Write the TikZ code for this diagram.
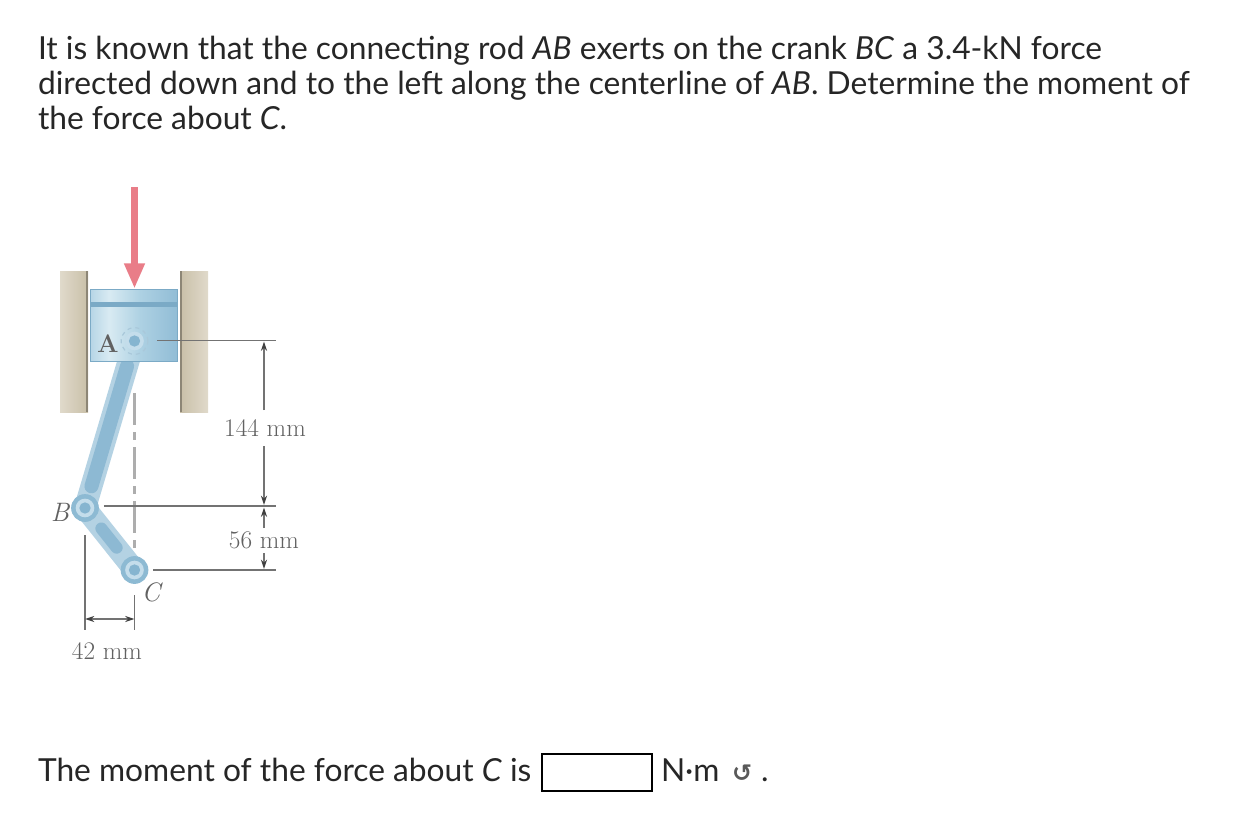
\documentclass[tikz,border=0pt]{standalone}
\usepackage{fontspec}
\setsansfont{Lato}
\newfontfamily\symfont{DejaVu Sans}
\usetikzlibrary{arrows.meta,calc}
\definecolor{rodblue}{HTML}{B4D2E3}
\definecolor{slotblue}{HTML}{8DB9D3}
\definecolor{wallL}{HTML}{E0DACB}
\definecolor{wallR}{HTML}{C9BFA8}
\definecolor{pistonEdge}{HTML}{7BAAC6}
\definecolor{forceRed}{HTML}{E97D88}
\definecolor{pinOut}{HTML}{8DBAD3}
\definecolor{pinRing}{HTML}{C4DDEB}
\definecolor{pinIn}{HTML}{86B5D0}
\pgfdeclarehorizontalshading{pistonshade}{65bp}{
  rgb(0bp)=(0.62,0.78,0.87);
  rgb(18bp)=(0.85,0.92,0.95);
  rgb(36bp)=(0.68,0.82,0.89);
  rgb(65bp)=(0.53,0.71,0.82)}
\tikzset{
  x=0.75pt,y=-0.75pt,
  bodytext/.style={anchor=base west,inner sep=0pt,outer sep=0pt,text=black!85,font=\sffamily\fontsize{23.8}{28}\selectfont},
  dimtext/.style={inner sep=0pt,text=black!62,font=\rmfamily\fontsize{19}{22}\selectfont},
  dimline/.style={draw=black!55,line width=1.1pt},
  dimarrow/.style={dimline,-{Stealth[length=7pt,width=4.5pt,black!75]}},
  centre/.style={draw=black!32,line width=2pt,dash pattern=on 24pt off 5.25pt on 6pt off 5.25pt},
  wall/.style={inner sep=0pt,minimum width=21pt,minimum height=105.75pt},
  pinbig/.style={circle,inner sep=0pt,minimum size=20pt,draw=pinOut,line width=.8pt,fill=pinOut},
  pinmid/.style={circle,inner sep=0pt,minimum size=14pt,fill=pinRing},
  pincore/.style={circle,inner sep=0pt,minimum size=8.5pt,fill=pinIn},
  rodbody/.style={draw=rodblue,line cap=round,line width=16.5pt},
  rodslot/.style={draw=slotblue,line cap=round,line width=10.5pt},
}
\begin{document}
\begin{tikzpicture}
\useasboundingbox (0,0) rectangle (1240,836);
\fill[white] (0,0) rectangle (1240,836);
% text
\node[bodytext] (l1) at (38,59.7) {It is known that the connecting rod \textit{AB} exerts on the crank \textit{BC} a 3.4-kN force};
\node[bodytext] (l2) at (38,94.7) {directed down and to the left along the centerline of \textit{AB}. Determine the moment of};
\node[bodytext] (l3) at (38,129.7) {the force about \textit{C}.};
\node[bodytext] (l4) at (38,781) {The moment of the force about \textit{C} is};
\node[draw=black,line width=1.5pt,inner sep=0pt,minimum width=82pt,minimum height=27.5pt] (box) at (597,772.5) {};
\node[bodytext] (unit) at (661,781) {N·m};
\node[bodytext,text=black!65,font=\symfont\bfseries\fontsize{18}{22}\selectfont] (ccw) at (732,781) {↺};
\node[bodytext] (dot) at (761,781) {.};
% walls
\node[wall,left color=wallL,right color=wallR] (wl) at (74,341.5) {};
\fill[black!30!wallR] (wl.north east) rectangle ([xshift=-1.5pt]wl.south east);
\node[wall,left color=wallR,right color=wallL] (wr) at (194,341.5) {};
\fill[black!30!wallR] (wr.north west) rectangle ([xshift=1.5pt]wr.south west);
% rods and pin centres
\coordinate (A) at (134.5,341);
\coordinate (B) at (85,508);
\coordinate (C) at (134.5,570);
\draw[rodbody] (A) -- (B);
\draw[rodslot] ($(A)!0.15!(B)$) -- ($(A)!0.87!(B)$);
\draw[rodbody] (B) -- (C);
\draw[rodslot,line width=9pt] ($(B)!0.33!(C)$) -- ($(B)!0.64!(C)$);
% piston
\node[inner sep=0pt,minimum width=65pt,minimum height=54.5pt,draw=pistonEdge,line width=.8pt,
  shading=pistonshade] (piston) at (134,325.5) {};
\fill[pistonEdge] (90.5,302) rectangle (177.5,306.5);
\node[circle,inner sep=0pt,minimum size=20pt,draw=white!35!pistonEdge,line width=.9pt,dashed] (pinA) at (A) {};
\node[pinmid,fill=pinRing] (pinAmid) at (A) {};
\node[pincore] (pinAin) at (A) {};
\node[pinbig] (pinB) at (B) {};
\node[pinmid] (pinBmid) at (B) {};
\node[pincore] (pinBin) at (B) {};
\node[pinbig] (pinC) at (C) {};
\node[pinmid] (pinCmid) at (C) {};
\node[pincore] (pinCin) at (C) {};
% force arrow
\coordinate (Ftop) at (134.5,187);
\draw[draw=forceRed,line width=5.2pt,-{Triangle[length=19pt,width=14.5pt,forceRed]}] (Ftop) -- (piston.north -| Ftop);
% centre line
\coordinate (ct) at (134.5,393);
\coordinate (cb) at (134.5,548);
\draw[centre] (ct) -- (cb);
% extension lines
\coordinate (ea) at (276,340.5);
\coordinate (eb) at (276,506);
\coordinate (ec) at (276,570);
\draw[dimline] (pinA.east |- ea) ++(9,0) -- (ea);
\draw[dimline] (pinB.east |- eb) ++(5,0) -- (eb);
\draw[dimline] (pinC.east |- ec) ++(5,0) -- (ec);
\coordinate (ex1) at (85,535);
\coordinate (ex1b) at (85,630);
\coordinate (ex2) at (134.5,595);
\coordinate (ex2b) at (134.5,630);
\draw[dimline] (ex1) -- (ex1b);
\draw[dimline] (ex2) -- (ex2b);
% dimensions
\node[dimtext] (d144) at (265,428) {144 mm};
\node[dimtext] (d56) at (264,540) {56 mm};
\node[dimtext] (d42) at (107,651) {42 mm};
\draw[dimarrow] (264,410) -- (264,341.5);
\draw[dimarrow] (264,446) -- (264,505);
\draw[dimarrow] (264,528) -- (264,507.5);
\draw[dimarrow] (264,553) -- (264,569);
\draw[dimarrow] (107,619) -- (ex1 |- 0,619);
\draw[dimarrow] (107,619) -- (ex2 |- 0,619);
% point labels
\node[dimtext,font=\rmfamily\bfseries\fontsize{19}{22}\selectfont] (lA) at (108,344) {A};
\node[dimtext,font=\rmfamily\itshape\fontsize{20}{22}\selectfont] (lB) at (60,512) {B};
\node[dimtext,font=\rmfamily\itshape\fontsize{20}{22}\selectfont] (lC) at (151,592) {C};
\end{tikzpicture}
\end{document}
